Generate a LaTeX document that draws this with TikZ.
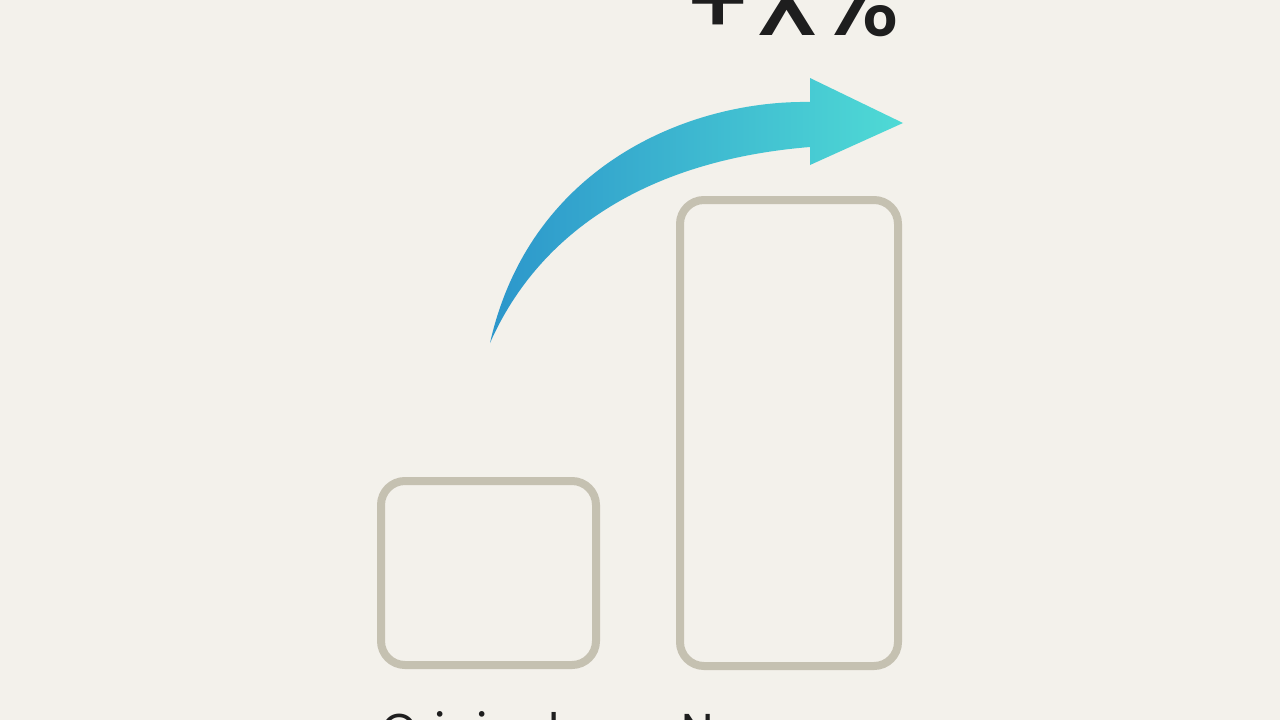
\documentclass[tikz,border=0pt]{standalone}
\usepackage{fontspec}
\setmainfont{Poppins}
\newfontfamily\gainfont{Poppins Medium}
\definecolor{paper}{HTML}{F3F1EB}
\definecolor{barline}{HTML}{C5C1B1}
\definecolor{arrowblue}{HTML}{2C96CB}
\definecolor{arrowcyan}{HTML}{4FDAD5}
\definecolor{ink}{HTML}{1E1E1E}
\begin{document}
\begin{tikzpicture}[x=1pt,y=-1pt,
  bar/.style={draw=barline,line width=8pt,rounded corners=24pt,inner sep=0pt}]
\clip (0,0) rectangle (1280,720);
\fill [paper] (0,0) rectangle (1280,720);
\node [bar,minimum width=215pt,minimum height=184pt] (original) at (488.5,573) {};
\node [bar,minimum width=218pt,minimum height=466pt] (new) at (789,433) {};
\shade [left color=arrowblue,right color=arrowcyan]
  (490,343) .. controls (540,230) and (650,160) .. (810,147)
  -- (810,165) -- (903,123) -- (810,78) -- (810,102)
  .. controls (690,100) and (530,165) .. (490,343) -- cycle;
\node [anchor=base,text=ink,font=\fontsize{100}{100}\gainfont,inner sep=0pt] (gain) at (791,35) {+X\%};
\node [anchor=base west,text=ink,font=\fontsize{46}{46}\selectfont,inner sep=0pt] (originallabel) at (381,746) {Original};
\node [anchor=base west,text=ink,font=\fontsize{46}{46}\selectfont,inner sep=0pt] (newlabel) at (681,746) {New};
\end{tikzpicture}
\end{document}
